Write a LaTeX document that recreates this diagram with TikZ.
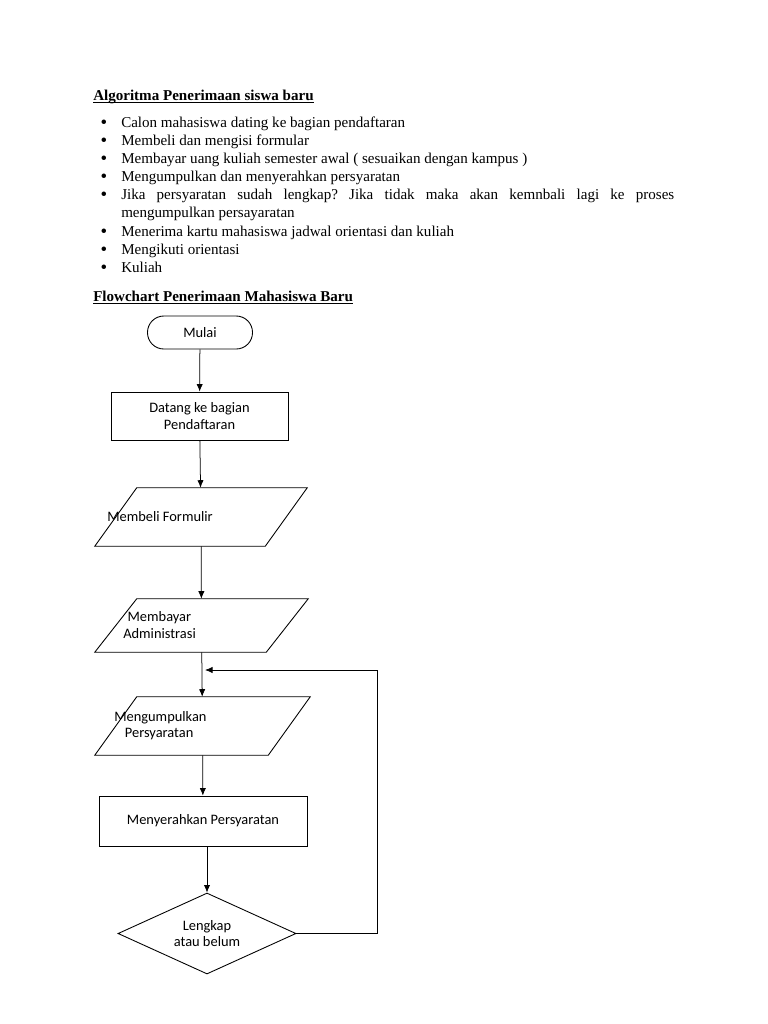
\documentclass[tikz,border=0pt]{standalone}
\usepackage{fontspec}
\setmainfont{Liberation Serif}
\newfontfamily\chartfont{Carlito}
\usetikzlibrary{shapes.geometric,positioning,arrows.meta}
\frenchspacing

\begin{document}
\begin{tikzpicture}[x=0.797pt,y=-0.797pt,
            every node/.append style = {inner sep = 0pt},
            body/.style = {anchor = base west, font = \fontsize{12}{14.35}\selectfont},
            chart/.style = {font = \chartfont\fontsize{11.5}{13}\selectfont},
            box/.style = {chart, draw, line width = 0.7pt, align = center},
            slant/.style = {shape = rectangle},
            flow/.style = {-{Latex[length = 6pt, width = 5pt]}, line width = 0.6pt}]
        \useasboundingbox (0,0) rectangle (768,1024);
        % algoritma
        \node[body] (judul1) at (93,100.5) {\textbf{Algoritma Penerimaan siswa baru}};
        \foreach \y/\t [count=\i] in {127.5/Calon mahasiswa dating ke bagian pendaftaran,
                145.5/Membeli dan mengisi formular,
                163.5/Membayar uang kuliah semester awal ( sesuaikan dengan kampus ),
                181.5/Mengumpulkan dan menyerahkan persyaratan,
                236/Menerima kartu mahasiswa jadwal orientasi dan kuliah,
                254/Mengikuti orientasi,
                272/Kuliah}
            \node[body] (item\i) at (121,\y) {\t};
        \node[body, text width = 553*0.797pt, align = justify] (item8) at (121,199.5)
            {Jika persyaratan sudah lengkap? Jika tidak maka akan kemnbali lagi ke proses\linebreak
            mengumpulkan persayaratan};
        \foreach \y [count=\i] in {127.5,145.5,163.5,181.5,199.5,236,254,272}
            \node[anchor = base, font = \fontsize{15}{14}\selectfont] (dot\i) at (104,\y+1) {\textbullet};
        % flowchart
        \node[body] (judul2) at (93,301) {\textbf{Flowchart Penerimaan Mahasiswa Baru}};
        \foreach \n in {judul1,judul2}
            \draw[line width = 0.6pt] ([yshift = -1.6pt]\n.base west) -- ([yshift = -1.6pt]\n.base east);
        \node[box, rounded corners = 13pt, minimum width = 105*0.797pt, minimum height = 33*0.797pt]
            (mulai) at (200,332.5) {Mulai};
        \node[box, minimum width = 177*0.797pt, minimum height = 48*0.797pt]
            (datang) at (199.5,416) {Datang ke bagian\\Pendaftaran};
        \node[slant, minimum width = 212*0.797pt, minimum height = 58*0.797pt]
            (beli) at (201,517) {};
        \node[chart, anchor = west] (tbeli) at (107,517) {Membeli Formulir};
        \node[slant, minimum width = 213*0.797pt, minimum height = 53*0.797pt]
            (bayar) at (201.5,625.5) {};
        \node[chart, anchor = west, align = left] (tbayar) at (123,625)
            {\hspace*{3.5pt}Membayar\\Administrasi};
        \node[slant, minimum width = 215*0.797pt, minimum height = 58*0.797pt]
            (kumpul) at (202.5,726) {};
        \node[chart, anchor = west, align = left] (tkumpul) at (114,725.5)
            {Mengumpulkan\\\hspace*{8.5pt}Persyaratan};
        \node[box, minimum width = 208*0.797pt, minimum height = 50*0.797pt]
            (serah) at (203,821) {Menyerahkan Persyaratan};
        \node[box, shape = diamond, aspect = 2.2, minimum width = 178*0.797pt, minimum height = 81*0.797pt]
            (cek) at (207,933.5) {Lengkap\\atau belum};
        \coordinate (balik) at (205,670);
        % jajaran genjang
        \foreach \n in {beli,bayar,kumpul}
            \draw[line width = 0.7pt] ([xshift = 42*0.797pt]\n.north west) -- (\n.north east)
                -- ([xshift = -42*0.797pt]\n.south east) -- (\n.south west) -- cycle;

        \draw[flow] (mulai) -- (datang);
        \draw[flow] (datang) -- (beli);
        \draw[flow] (beli) -- (bayar);
        \draw[flow] (bayar) -- (kumpul);
        \draw[flow] (kumpul) -- (serah);
        \draw[flow] (cek.north |- serah.south) -- (cek.north);
        \draw[flow] (cek.east) -- ++(81,0) |- (balik);
        \end{tikzpicture}
\end{document}
